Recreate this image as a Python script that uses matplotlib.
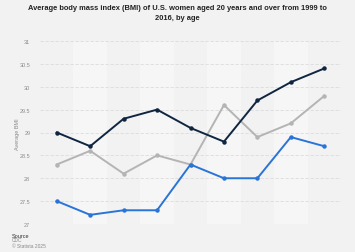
import matplotlib
matplotlib.use("Agg")
import matplotlib.pyplot as plt

# periods 1999-2000 ... 2015-2016
periods = ["1999-2000", "2001-2002", "2003-2004", "2005-2006", "2007-2008",
           "2009-2010", "2011-2012", "2013-2014", "2015-2016"]
bmi_20_39 = [27.5, 27.2, 27.3, 27.3, 28.3, 28.0, 28.0, 28.9, 28.7]
bmi_40_59 = [29.0, 28.7, 29.3, 29.5, 29.1, 28.8, 29.7, 30.1, 30.4]
bmi_60_plus = [28.3, 28.6, 28.1, 28.5, 28.3, 29.6, 28.9, 29.2, 29.8]
y_ticks = [27, 27.5, 28, 28.5, 29, 29.5, 30, 30.5, 31]
y_labels = ["27", "27.5", "28", "28.5", "29", "29.5", "30", "30.5", "31"]

bg = "#f2f2f2"
font = "Liberation Sans"

fig = plt.figure(figsize=(3.55, 2.53), dpi=100, facecolor=bg)
ax = fig.add_axes([40 / 355, 1 - 225 / 253, 301 / 355, 183 / 253])
ax.set_facecolor(bg)

x = list(range(len(periods)))
for i in x:
    if i % 2 == 1:
        ax.axvspan(i - 0.5, i + 0.5, color="#f6f6f6", zorder=0, lw=0)

for v in y_ticks:
    ax.axhline(v, color="#dcdcdc", lw=0.6, ls=(0, (4, 2)), zorder=1)

ax.plot(x, bmi_60_plus, color="#b4b4b4", lw=1.4, marker="o", ms=2.2, zorder=3)
ax.plot(x, bmi_20_39, color="#2a74d8", lw=1.4, marker="o", ms=2.2, zorder=3)
ax.plot(x, bmi_40_59, color="#0f2540", lw=1.4, marker="o", ms=2.2, zorder=4)

ax.set_xlim(-0.5, len(periods) - 0.5)
ax.set_ylim(27, 31)
ax.set_xticks([])
ax.set_yticks(y_ticks)
ax.set_yticklabels(y_labels, fontsize=4, color="#8a8a8a", family=font)
ax.tick_params(axis="y", length=0, pad=7)
for s in ax.spines.values():
    s.set_visible(False)

fig.text(18 / 355, 1 - 134 / 253, "Average BMI", rotation=90, ha="center",
         va="center", fontsize=4, color="#8a8a8a", family=font)

fig.text(0.5, 1 - 13 / 253,
         "Average body mass index (BMI) of U.S. women aged 20 years and over from 1999 to\n2016, by age",
         ha="center", va="center", fontsize=5.4, fontweight="bold",
         color="#222222", family=font, linespacing=1.6)

fig.text(12 / 355, 1 - 236 / 253, "Source", fontsize=4, color="#333333",
         family=font, va="center")
fig.text(12 / 355, 1 - 241 / 253, "CDC", fontsize=3.5, color="#888888",
         family=font, va="center")
fig.text(12 / 355, 1 - 246.5 / 253, "\u00a9 Statista 2025", fontsize=3.5,
         color="#888888", family=font, va="center")

fig.savefig("out.png", dpi=100, facecolor=bg)
